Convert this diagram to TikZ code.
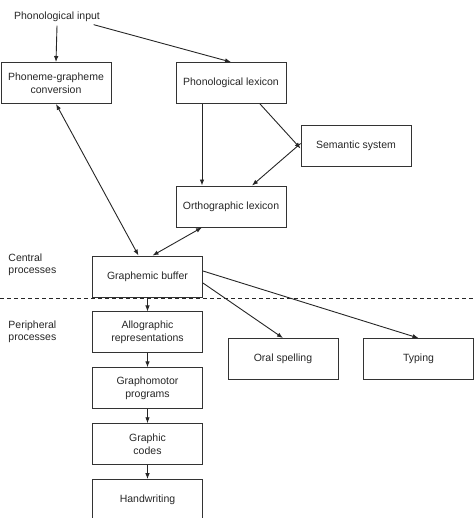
\documentclass[tikz,border=0pt]{standalone}
\usepackage{fontspec}
\setmainfont{Liberation Sans}
\usetikzlibrary{positioning,arrows.meta}
\tikzstyle{boite}=[rectangle,draw=black!80,line width=0.9pt,minimum width=110pt,minimum height=41pt,inner sep=1pt,align=center]
\tikzstyle{etiquette}=[anchor=west,align=left,inner sep=0pt]

\begin{document}
\begin{tikzpicture}[x=1pt,y=-1pt,font=\fontsize{10.5}{12.5}\selectfont,>={Latex[length=6pt,width=4.5pt]},line width=0.9pt,draw=black!85,text=black!85]
\useasboundingbox (0,0) rectangle (474,518);

\node (input) at (57,17) {Phonological input};
\node[boite] (pgc) at (56,83) {Phoneme-grapheme\\conversion};
\node[boite] (plex) at (231,83) {Phonological lexicon};
\node[boite] (sem) at (356,145.5) {Semantic system};
\node[boite] (olex) at (231,206.5) {Orthographic lexicon};
\node[boite] (buf) at (147.5,276.5) {Graphemic buffer};
\node[boite] (allo) [below =14pt of buf] {Allographic\\representations};
\node[boite] (motor) [below =14pt of allo] {Graphomotor\\programs};
\node[boite] (codes) [below =14pt of motor] {Graphic\\codes};
\node[boite] (hand) [below =14pt of codes] {Handwriting};
\node[boite] (oral) at (283,359) {Oral spelling};
\node[boite] (typing) at (418.5,359) {Typing};

\node[etiquette] (central) at (8,265) {Central\\processes};
\node[etiquette] (periph) at (8,332) {Peripheral\\processes};

\coordinate (dashL) at (0,298);
\coordinate (dashR) at (474,298);
\draw[dash pattern=on 4pt off 3pt] (dashL) -- (dashR);

\draw[->] (input.south) to (pgc.north);
\draw[->] ([xshift=-10pt,yshift=1pt]input.south east) to (plex.north);
\draw[->] ([xshift=-29pt]plex.south) to ([xshift=-29pt]olex.north);
\draw[->] ([xshift=29pt]plex.south) to ([yshift=-3pt]sem.west);
\draw[->] ([yshift=2pt]sem.west) to ([xshift=21pt]olex.north);
\draw[<->] (pgc.south) to ([xshift=-9pt]buf.north);
\draw[<->] ([xshift=-29pt]olex.south) to ([xshift=5pt]buf.north);
\draw[->] ([yshift=-6.5pt]buf.east) to (oral.north);
\draw[->] ([yshift=5.5pt]buf.east) to (typing.north);
\draw[->] (buf.south) to (allo.north);
\draw[->] (allo.south) to (motor.north);
\draw[->] (motor.south) to (codes.north);
\draw[->] (codes.south) to (hand.north);

\end{tikzpicture}
\end{document}
